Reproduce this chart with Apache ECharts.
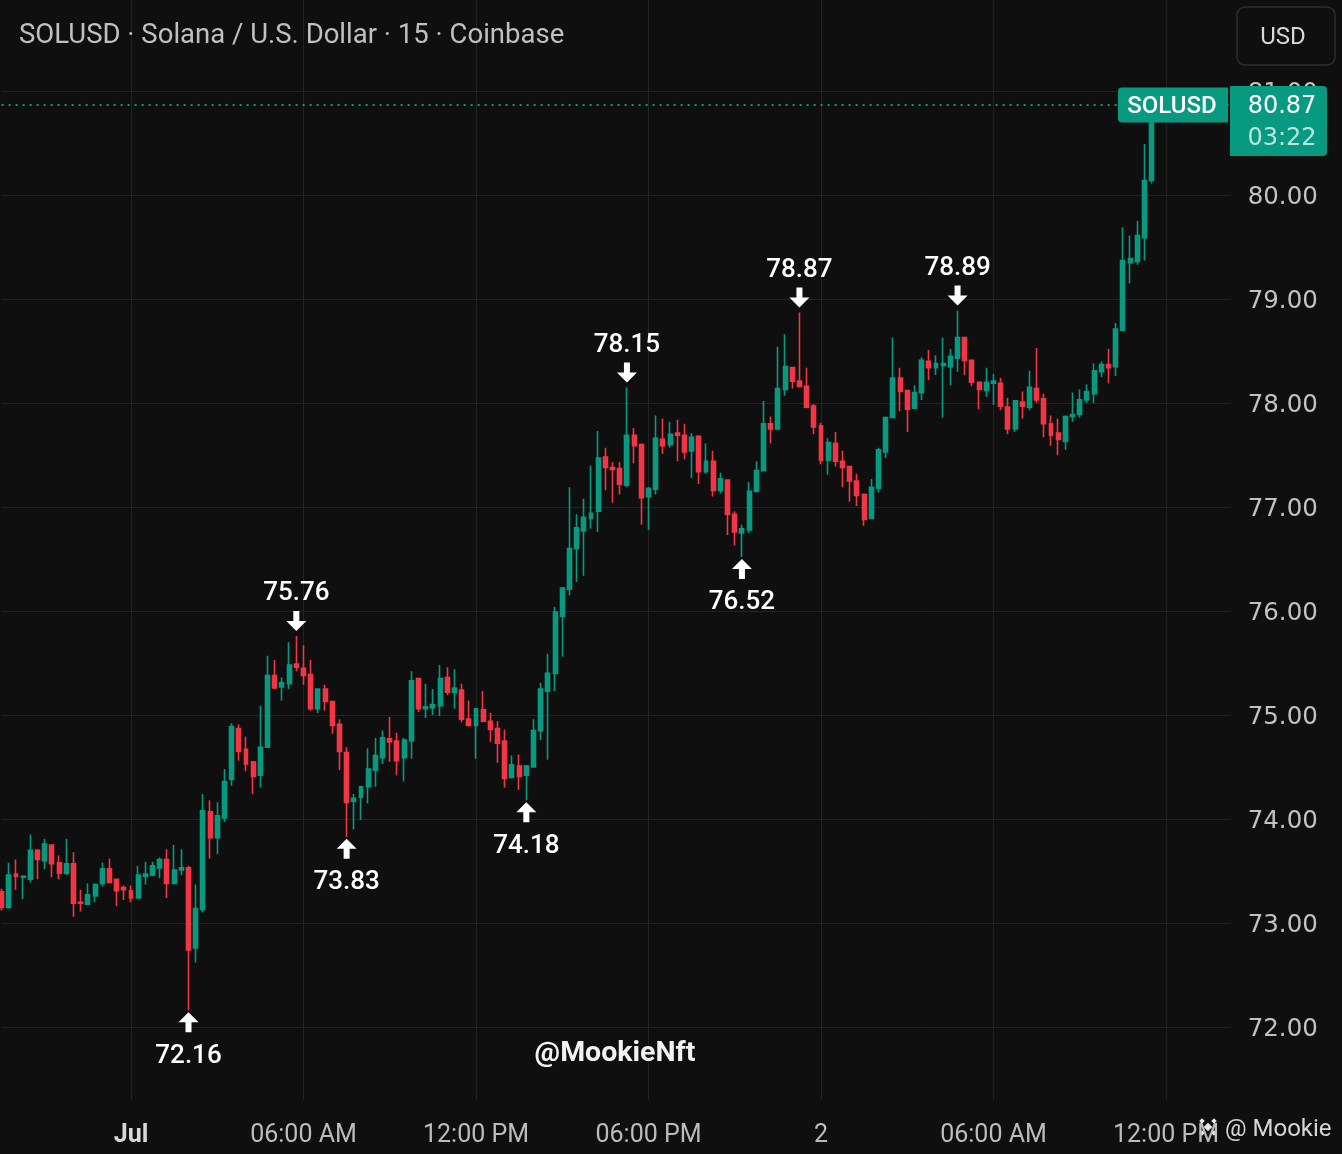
<!DOCTYPE html>
<html>
<head>
<meta charset="utf-8">
<script src="https://cdn.jsdelivr.net/npm/echarts@6/dist/echarts.min.js"></script>
<style>
html,body{margin:0;padding:0;background:#0f0f0f;}
#c{width:1342px;height:1154px;}
</style>
</head>
<body>
<div id="c"></div>
<script>
// 15-minute slots counted from Jul 1 00:00 (slot 0)
const FIRST_SLOT = -18;   // first slot on the chart (Jun 30 19:30)
const LAST_SLOT = 153;    // last (empty) slot at the right edge

// OHLC values, slot -18 .. 142
const open = [
73.30,73.15,73.47,73.44,73.42,73.70,73.60,73.75,73.58,73.48,73.57,73.20,73.18,73.26,73.38,73.52,73.42,73.34,
73.31,73.24,73.45,73.46,73.53,73.61,73.38,73.51,73.53,72.76,
73.13,74.07,73.82,74.01,74.38,74.87,74.67,74.55,74.42,74.69,
75.38,75.27,75.30,75.49,75.45,75.39,75.06,75.25,75.13,74.91,
74.64,74.17,74.21,74.31,74.47,74.59,74.77,74.75,74.59,74.75,
75.35,75.06,75.07,75.09,75.36,75.22,75.24,74.96,74.90,75.05,
74.94,74.87,74.75,74.40,74.51,74.42,74.50,74.85,75.23,75.40,
75.95,76.21,76.60,76.77,76.89,76.96,77.48,77.38,77.37,77.21,
77.69,77.60,77.10,77.17,77.65,77.60,77.71,77.69,77.54,77.68,
77.34,77.44,77.16,77.26,76.93,76.75,76.78,77.15,77.35,77.80,
77.75,78.13,78.34,78.21,78.16,77.97,77.78,77.45,77.61,77.44,
77.39,77.25,77.12,76.89,77.18,77.53,77.86,78.24,78.12,77.95,
78.10,78.40,78.34,78.36,78.35,78.43,78.63,78.41,78.20,78.12,
78.19,78.19,77.96,77.75,78.01,77.96,78.14,78.04,77.80,77.71,
77.63,77.87,77.89,78.03,78.09,78.30,78.37,78.35,78.70,79.35,
79.36,79.59,80.14
];
const high = [
73.33,73.58,73.61,73.46,73.85,73.71,73.81,73.75,73.65,73.81,73.68,73.32,73.38,73.38,73.58,73.62,73.42,73.36,
73.36,73.55,73.59,73.59,73.63,73.71,73.75,73.71,73.55,73.37,
74.24,74.18,74.16,74.48,74.92,74.91,74.79,74.55,75.09,75.57,
75.53,75.36,75.70,75.76,75.67,75.53,75.25,75.29,75.13,74.96,
74.69,74.24,74.32,74.68,74.78,74.85,74.98,74.83,74.78,75.42,
75.35,75.30,75.25,75.48,75.46,75.44,75.30,75.14,75.07,75.23,
75.02,74.94,74.86,74.61,74.62,74.52,74.96,75.31,75.59,76.04,
76.23,77.19,76.93,77.08,77.40,77.73,77.57,77.43,77.43,78.15,
77.76,77.61,77.19,77.88,77.85,77.82,77.84,77.80,77.71,77.69,
77.61,77.54,77.33,77.26,76.96,76.83,77.24,77.44,78.02,77.87,
78.54,78.66,78.34,78.87,78.34,77.99,77.81,77.66,77.72,77.54,
77.39,77.32,77.13,77.27,77.57,77.87,78.63,78.34,78.12,78.17,
78.44,78.51,78.46,78.63,78.52,78.89,78.63,78.41,78.20,78.34,
78.28,78.24,78.05,78.03,78.11,78.31,78.53,78.09,77.88,77.85,
77.88,78.10,78.13,78.18,78.38,78.40,78.52,78.77,79.69,79.61,
79.75,80.49,80.88
];
const low = [
73.12,73.14,73.32,73.23,73.39,73.42,73.52,73.44,73.42,73.46,73.06,73.11,73.18,73.20,73.35,73.38,73.16,73.22,
73.20,73.24,73.37,73.46,73.43,73.24,73.38,73.46,72.16,72.62,
73.10,73.62,73.66,73.97,74.32,74.56,74.46,74.24,74.30,74.69,
75.25,75.14,75.25,75.42,75.29,75.04,75.02,75.04,74.82,74.47,
73.83,73.90,73.99,74.15,74.31,74.53,74.55,74.42,74.36,74.58,
75.03,74.97,75.00,74.99,75.19,75.06,74.93,74.89,74.58,74.93,
74.74,74.54,74.30,74.39,74.28,74.18,74.50,74.76,74.57,75.23,
75.56,76.15,76.28,76.34,76.79,76.76,77.16,77.04,77.12,77.19,
77.42,76.83,76.78,77.12,77.51,77.57,77.44,77.46,77.28,77.22,
77.32,77.10,77.13,76.73,76.63,76.52,76.75,77.15,77.35,77.61,
77.74,78.07,78.14,78.15,77.95,77.70,77.41,77.31,77.39,77.19,
77.05,77.01,76.82,76.89,77.14,77.47,77.86,77.92,77.72,77.95,
78.03,78.22,78.27,77.86,78.17,78.30,78.27,78.16,77.94,78.06,
77.98,77.93,77.70,77.72,77.85,77.93,78.00,77.67,77.59,77.50,
77.55,77.82,77.86,78.00,78.00,78.25,78.19,78.26,78.69,79.15,
79.33,79.37,80.11
];
const close = [
73.15,73.46,73.45,73.45,73.70,73.61,73.76,73.57,73.48,73.57,73.19,73.19,73.27,73.37,73.52,73.39,73.31,73.32,
73.24,73.46,73.47,73.55,73.61,73.38,73.51,73.53,72.74,73.14,
74.08,73.82,74.03,74.36,74.89,74.65,74.53,74.41,74.69,75.38,
75.26,75.31,75.48,75.46,75.38,75.06,75.25,75.13,74.90,74.65,
74.16,74.20,74.31,74.48,74.61,74.78,74.74,74.56,74.76,75.33,
75.06,75.08,75.10,75.35,75.22,75.26,74.96,74.90,75.06,74.94,
74.86,74.73,74.39,74.52,74.41,74.51,74.85,75.25,75.40,75.99,
76.22,76.60,76.80,76.90,76.94,77.47,77.38,77.36,77.22,77.69,
77.59,77.09,77.18,77.66,77.59,77.70,77.69,77.53,77.67,77.34,
77.44,77.16,77.27,76.93,76.76,76.79,77.15,77.35,77.80,77.75,
78.14,78.35,78.21,78.16,77.96,77.77,77.45,77.62,77.44,77.38,
77.25,77.11,76.88,77.19,77.55,77.86,78.24,78.11,77.94,78.10,
78.41,78.34,78.38,78.38,78.45,78.63,78.41,78.20,78.13,78.20,
78.21,77.97,77.75,78.02,77.97,78.15,78.03,77.80,77.69,77.65,
77.87,77.89,78.03,78.11,78.31,78.37,78.34,78.71,79.37,79.39,
79.61,80.14,80.87
];

// High / low callouts (slot, price, kind)
const calloutSlots  = [8, 23, 30, 55, 69, 85, 93, 115];
const calloutPrices = [72.16, 75.76, 73.83, 74.18, 78.15, 76.52, 78.87, 78.89];
const calloutKinds  = ['low','high','low','low','high','low','high','high'];

const lastPrice = 80.87;
const countdown = '03:22';
const priceMin = 72, priceMax = 82, priceStep = 1;
const titleText = 'SOLUSD · Solana / U.S. Dollar · 15 · Coinbase';
const symbolTag = 'SOLUSD';

// ---------- build ----------
function pad(n){ return (n < 10 ? '0' : '') + n; }
const cats = [];
for (let s = FIRST_SLOT; s <= LAST_SLOT; s++) {
  const m = s * 15;
  const d = Math.floor(m / 1440);
  const mm = ((m % 1440) + 1440) % 1440;
  const dayName = d < 0 ? 'Jun ' + (31 + d) : 'Jul ' + (1 + d);
  cats.push(dayName + ' ' + pad(Math.floor(mm / 60)) + ':' + pad(mm % 60));
}
function isMajor(index){ const s = index + FIRST_SLOT; return s >= 0 && s % 24 === 0; }
function timeLabel(value){
  const parts = value.split(' ');
  const hh = parseInt(parts[2].split(':')[0], 10);
  if (hh === 0) return parts[1] === '1' ? '{b|' + parts[0] + '}' : parts[1];
  const h12 = hh % 12 === 0 ? 12 : hh % 12;
  return pad(h12) + ':00 ' + (hh < 12 ? 'AM' : 'PM');
}

const candleData = open.map((o, k) => [o, close[k], low[k], high[k]]);

const DOWN_ARROW = 'path://M7,0 L13,0 L13,10 L20,10 L10,20 L0,10 L7,10 Z';
const UP_ARROW = 'path://M10,0 L20,10 L13,10 L13,20 L7,20 L7,10 L0,10 Z';
const markData = [];
calloutSlots.forEach((s, k) => {
  const isHigh = calloutKinds[k] === 'high';
  const coord = [cats[s - FIRST_SLOT], calloutPrices[k]];
  markData.push({
    coord: coord, symbol: isHigh ? DOWN_ARROW : UP_ARROW, symbolSize: [20, 20],
    symbolOffset: [0, isHigh ? -15 : 12], itemStyle: { color: '#ffffff' }, label: { show: false }
  });
  markData.push({
    coord: coord, symbol: 'circle', symbolSize: 1, itemStyle: { color: 'rgba(0,0,0,0)' },
    label: {
      show: true, position: 'inside', offset: [0, isHigh ? -42 : 46],
      formatter: calloutPrices[k].toFixed(2), color: '#ffffff',
      fontFamily: 'Roboto', fontSize: 26, fontWeight: 500, align: 'center', verticalAlign: 'middle'
    }
  });
});

const GRID_LEFT = 1.625, GRID_RIGHT = 1342 - 1230.69;
const gridLine = '#232323';

const chart = echarts.init(document.getElementById('c'), null, { renderer: 'canvas' });
const option = {
  backgroundColor: '#0f0f0f',
  animation: false,
  grid: [
    { left: GRID_LEFT, right: GRID_RIGHT, top: -13, height: 1040, containLabel: false, outerBoundsMode: 'none' },
    { left: GRID_LEFT, right: GRID_RIGHT, top: 0, height: 1100, containLabel: false, outerBoundsMode: 'none' }
  ],
  xAxis: [
    { type: 'category', gridIndex: 0, data: cats, boundaryGap: false, show: false },
    {
      type: 'category', gridIndex: 1, data: cats, boundaryGap: false, z: 0,
      axisLine: { show: false }, axisTick: { show: false },
      axisLabel: {
        interval: isMajor, formatter: timeLabel, color: '#bcbcbc', fontFamily: 'Roboto',
        fontSize: 25, margin: 23, lineHeight: 26, hideOverlap: false,
        rich: { b: { fontWeight: 'bold', color: '#d8d8d8', fontFamily: 'Roboto', fontSize: 25 } }
      },
      splitLine: { show: true, interval: isMajor, lineStyle: { color: gridLine, width: 1 } }
    }
  ],
  yAxis: [
    {
      type: 'value', gridIndex: 0, position: 'right', min: priceMin, max: priceMax, interval: priceStep,
      axisLine: { show: false }, axisTick: { show: false },
      axisLabel: {
        color: '#c2c2c2', fontFamily: 'DejaVu Sans', fontSize: 24.5, margin: 17, align: 'left',
        formatter: v => '{p|' + v.toFixed(2) + '}',
        rich: { p: { color: '#c2c2c2', fontFamily: 'DejaVu Sans', fontSize: 24.5, padding: [6, 0, 0, 0] } }
      },
      splitLine: { show: true, lineStyle: { color: gridLine, width: 1 } }
    },
    { type: 'value', gridIndex: 1, min: 0, max: 1, show: false, splitLine: { show: false } }
  ],
  series: [{
    type: 'candlestick', name: 'SOLUSD', xAxisIndex: 0, yAxisIndex: 0,
    data: candleData, barWidth: 4.4,
    itemStyle: { color: '#089981', color0: '#F23645', borderColor: '#089981', borderColor0: '#F23645', borderWidth: 1.6 },
    markLine: {
      silent: true, symbol: ['none', 'none'], label: { show: false },
      lineStyle: { color: '#089981', type: [2, 5], width: 2 },
      data: [{ yAxis: lastPrice }]
    },
    markPoint: { silent: true, data: markData }
  }]
};
chart.setOption(option);

const py = chart.convertToPixel({ yAxisIndex: 0 }, lastPrice);
chart.setOption({
  graphic: [
    { type: 'text', z: 100, x: 19, y: 36, style: { text: titleText, fill: '#c0c0c0', fontFamily: 'Roboto', fontSize: 27.5, align: 'left', verticalAlign: 'middle' } },
    { type: 'rect', z: 100, shape: { x: 1237, y: 7, width: 98, height: 58, r: 8 }, style: { fill: '#0f0f0f', stroke: '#2e2e2e', lineWidth: 1.5 } },
    { type: 'text', z: 101, x: 1283, y: 38, style: { text: 'USD', fill: '#d9d9d9', fontFamily: 'Roboto', fontSize: 24, align: 'center', verticalAlign: 'middle' } },
    { type: 'rect', z: 100, shape: { x: 1118, y: py - 17, width: 110, height: 35, r: [4, 0, 0, 4] }, style: { fill: '#089981' } },
    { type: 'text', z: 101, x: 1172, y: py + 2, style: { text: symbolTag, fill: '#ffffff', fontFamily: 'Roboto', fontSize: 24, fontWeight: 500, align: 'center', verticalAlign: 'middle' } },
    { type: 'rect', z: 100, shape: { x: 1230, y: py - 18.5, width: 97, height: 70, r: [0, 4, 4, 0] }, style: { fill: '#089981' } },
    { type: 'text', z: 101, x: 1282, y: py + 2, style: { text: lastPrice.toFixed(2), fill: '#ffffff', fontFamily: 'DejaVu Sans', fontSize: 24, align: 'center', verticalAlign: 'middle' } },
    { type: 'text', z: 101, x: 1282, y: py + 34, style: { text: countdown, fill: 'rgba(255,255,255,0.72)', fontFamily: 'DejaVu Sans', fontSize: 24, align: 'center', verticalAlign: 'middle' } },
    { type: 'text', z: 100, x: 615, y: 1054, style: { text: '@MookieNft', fill: '#f2f2f2', fontFamily: 'Roboto', fontSize: 28.5, fontWeight: 'bold', align: 'center', verticalAlign: 'middle' } },
    {
      type: 'group', z: 100, x: 1208, y: 1127, rotation: Math.PI / 4,
      children: [
        { type: 'rect', shape: { x: -3.5, y: -3.5, width: 7, height: 7 }, style: { fill: '#e8e8e8', stroke: '#0f0f0f', lineWidth: 1 } },
        { type: 'rect', shape: { x: -11, y: -2.5, width: 5, height: 5 }, style: { fill: '#e8e8e8', stroke: '#0f0f0f', lineWidth: 1 } },
        { type: 'rect', shape: { x: 6, y: -2.5, width: 5, height: 5 }, style: { fill: '#e8e8e8', stroke: '#0f0f0f', lineWidth: 1 } },
        { type: 'rect', shape: { x: -2.5, y: -11, width: 5, height: 5 }, style: { fill: '#e8e8e8', stroke: '#0f0f0f', lineWidth: 1 } },
        { type: 'rect', shape: { x: -2.5, y: 6, width: 5, height: 5 }, style: { fill: '#e8e8e8', stroke: '#0f0f0f', lineWidth: 1 } }
      ]
    },
    { type: 'text', z: 100, x: 1225, y: 1130, style: { text: '@ Mookie', fill: '#d6d6d6', fontFamily: 'Roboto', fontSize: 24, align: 'left', verticalAlign: 'middle' } }
  ]
});
</script>
</body>
</html>
